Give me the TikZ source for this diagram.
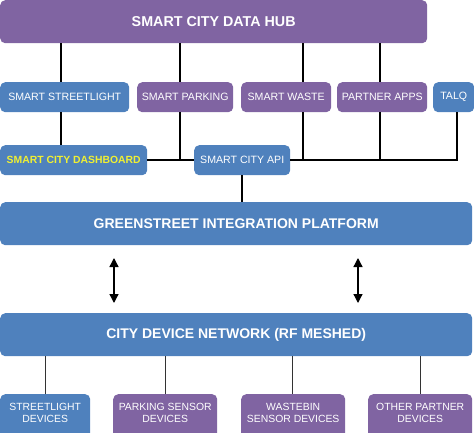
\documentclass[tikz,border=0pt]{standalone}
\usepackage{fontspec}
\setmainfont{Liberation Sans}
\usetikzlibrary{arrows.meta}
\definecolor{cblue}{HTML}{4F81BD}
\definecolor{cpurple}{HTML}{8064A2}
\definecolor{cyellow}{HTML}{F0F032}
\tikzset{
  box/.style={rounded corners=5pt, inner sep=0pt, text=white, align=center, anchor=north west},
  bluebox/.style={box, fill=cblue},
  purplebox/.style={box, fill=cpurple},
  midfont/.style={font=\fontsize{10.6}{12}\selectfont},
  devfont/.style={font=\fontsize{10.4}{12}\selectfont},
  bigfont/.style={font=\bfseries\fontsize{14}{16}\selectfont},
  thickline/.style={line width=2.2pt, black},
  thinline/.style={line width=1.2pt, black!80},
  dblarrow/.style={line width=1.3pt, {Triangle[width=9pt,length=9pt]}-{Triangle[width=9pt,length=9pt]}},
}
\begin{document}
\begin{tikzpicture}[x=1pt,y=-1pt]
\useasboundingbox (0,0) rectangle (474,433);
\clip (0,0) rectangle (474,433);
% top hub
\node[purplebox, minimum width=427pt, minimum height=43pt, font=\bfseries\fontsize{14.3}{16}\selectfont] (hub) at (0,0) {SMART CITY DATA HUB};
% row 2
\node[bluebox, midfont, minimum width=129pt, minimum height=30pt] (sl) at (0,82) {SMART STREETLIGHT};
\node[purplebox, midfont, minimum width=96pt, minimum height=30pt] (park) at (137,82) {SMART PARKING};
\node[purplebox, midfont, minimum width=90pt, minimum height=30pt] (waste) at (241,82) {SMART WASTE};
\node[purplebox, midfont, minimum width=90pt, minimum height=30pt] (partner) at (337,82) {PARTNER APPS};
\node[bluebox, midfont, minimum width=41pt, minimum height=30pt] (talq) at (433,82) {TALQ};
% row 3
\node[bluebox, minimum width=147pt, minimum height=30pt, text=cyellow, font=\bfseries\fontsize{10.4}{12}\selectfont] (dash) at (0,145) {SMART CITY DASHBOARD};
\node[bluebox, midfont, minimum width=96pt, minimum height=30pt] (api) at (194,145) {SMART CITY API};
% platform
\node[bluebox, bigfont, minimum width=472pt, minimum height=43pt] (plat) at (0,202) {GREENSTREET INTEGRATION PLATFORM};
% network
\node[bluebox, bigfont, minimum width=472pt, minimum height=43pt] (net) at (0,313) {CITY DEVICE NETWORK (RF MESHED)};
% devices
\node[bluebox, devfont, minimum width=90pt, minimum height=50pt] (d1) at (0,394) {STREETLIGHT\\DEVICES\\};
\node[purplebox, devfont, minimum width=104pt, minimum height=50pt] (d2) at (113,394) {PARKING SENSOR\\DEVICES\\};
\node[purplebox, devfont, minimum width=104pt, minimum height=50pt] (d3) at (241,394) {WASTEBIN\\SENSOR DEVICES\\};
\node[purplebox, devfont, minimum width=104pt, minimum height=50pt] (d4) at (368,394) {OTHER PARTNER\\DEVICES\\};
% hub connectors
\draw[thickline] ([xshift=-3.5pt]sl.north |- hub.south) -- ([xshift=-3.5pt]sl.north);
\draw[thickline] ([xshift=-5pt]park.north |- hub.south) -- ([xshift=-5pt]park.north);
\draw[thickline] ([xshift=17pt]waste.north |- hub.south) -- ([xshift=17pt]waste.north);
\draw[thickline] ([xshift=-2pt]partner.north |- hub.south) -- ([xshift=-2pt]partner.north);
% streetlight to dashboard
\draw[thickline] ([xshift=-3.5pt]sl.south) -- ([xshift=-3.5pt]sl.south |- dash.north);
% bus
\draw[thickline] (dash.east) -- (api.west);
\draw[thickline] (api.east) -- ([xshift=3pt]talq.south |- api.east) -- ([xshift=3pt]talq.south);
\draw[thickline] ([xshift=-5pt]park.south) -- ([xshift=-5pt]park.south |- dash.east);
\draw[thickline] ([xshift=17pt]waste.south) -- ([xshift=17pt]waste.south |- api.east);
\draw[thickline] ([xshift=-2pt]partner.south) -- ([xshift=-2pt]partner.south |- api.east);
% api to platform
\draw[thickline] (api.south) -- (api.south |- plat.north);
% arrows
\coordinate (a1t) at (114,258);
\coordinate (a1b) at (114,303);
\coordinate (a2t) at (358,258);
\coordinate (a2b) at (358,303);
\draw[dblarrow] (a1t) -- (a1b);
\draw[dblarrow] (a2t) -- (a2b);
% network to devices
\draw[thinline] (d1.north |- net.south) -- (d1.north);
\draw[thinline] (d2.north |- net.south) -- (d2.north);
\draw[thinline] ([xshift=-0.5pt]d3.north |- net.south) -- ([xshift=-0.5pt]d3.north);
\draw[thinline] (d4.north |- net.south) -- (d4.north);
\end{tikzpicture}
\end{document}
